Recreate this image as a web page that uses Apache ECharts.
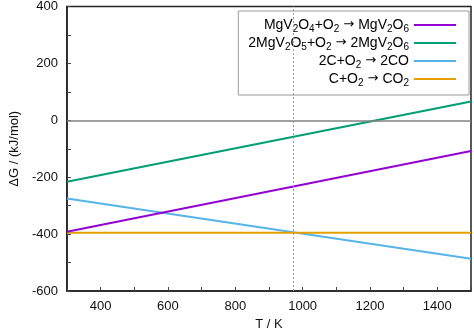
<!DOCTYPE html>
<html>
<head>
<meta charset="utf-8">
<script src="https://cdn.jsdelivr.net/npm/echarts@6/dist/echarts.min.js"></script>
<style>html,body{margin:0;padding:0;background:#fff}#c{width:474px;height:336px}</style>
</head>
<body>
<div id="c"></div>
<script>
// Data (T in K, ΔG in kJ/mol) — straight lines read at the plot ends
const seriesNames = ['MgV2O4+O2 → MgV2O6', '2MgV2O5+O2 → 2MgV2O6', '2C+O2 → 2CO', 'C+O2 → CO2'];
const seriesLabels = [
  'MgV{s|2}O{s|4}+O{s|2}{a|→}MgV{s|2}O{s|6}',
  '2MgV{s|2}O{s|5}+O{s|2}{a|→}2MgV{s|2}O{s|6}',
  '2C+O{s|2}{a|→}2CO',
  'C+O{s|2}{a|→}CO{s|2}'
];
const seriesColors = ['#9400D3', '#009E73', '#56B4E9', '#E69F00'];
const tValues = [300, 1500];
const mgv2o4 = [-392, -108];
const mgv2o5 = [-216, 66];
const co = [-275, -487];
const co2 = [-395, -395];
const zeroLine = 0;
const markerT = 971;
const xTickLabels = [400, 600, 800, 1000, 1200, 1400];
const yTickLabels = [-600, -400, -200, 0, 200, 400];

const allValues = [mgv2o4, mgv2o5, co, co2];
const font = 'Liberation Sans, Arial, Helvetica, sans-serif';

const series = allValues.map((vals, i) => ({
  name: seriesNames[i],
  type: 'line',
  data: tValues.map((t, j) => [t, vals[j]]),
  showSymbol: false,
  symbol: 'none',
  color: seriesColors[i],
  lineStyle: { width: 2, color: seriesColors[i] },
  z: 3,
  silent: true
}));
series[0].markLine = {
  silent: true,
  symbol: 'none',
  label: { show: false },
  animation: false,
  data: [
    { yAxis: zeroLine, lineStyle: { color: '#808080', width: 1.5, type: 'solid' } },
    { xAxis: markerT, lineStyle: { color: '#999', width: 1, type: [2, 2] } }
  ]
};
series[0].z = 4;

const chart = echarts.init(document.getElementById('c'), null, { renderer: 'canvas' });
chart.setOption({
  animation: false,
  backgroundColor: '#fff',
  textStyle: { fontFamily: font },
  grid: { left: 63, right: 2, top: 6, bottom: 41, show: true, borderColor: '#222', borderWidth: 1.5, backgroundColor: 'transparent' },
  legend: {
    orient: 'vertical',
    align: 'right',
    right: 5,
    top: 11,
    padding: [5, 13, 7, 10],
    itemGap: 0,
    itemWidth: 42,
    itemHeight: 2,
    icon: 'rect',
    backgroundColor: '#fff',
    borderColor: '#999',
    borderWidth: 1,
    borderRadius: 0,
    data: seriesNames,
    formatter: (name) => seriesLabels[seriesNames.indexOf(name)],
    textStyle: {
      fontFamily: font, fontSize: 14, color: '#000', lineHeight: 18,
      rich: {
        s: { fontFamily: font, fontSize: 10, lineHeight: 10, verticalAlign: 'bottom', color: '#000' },
        a: { fontFamily: 'DejaVu Sans', fontSize: 13, lineHeight: 18, color: '#000', padding: [0, 4, 0, 4] }
      }
    }
  },
  xAxis: {
    type: 'value', min: 300, max: 1500, interval: 100,
    name: 'T / K', nameLocation: 'middle', nameGap: 27,
    nameTextStyle: { fontFamily: font, fontSize: 13, color: '#111' },
    axisLine: { show: true, onZero: false, lineStyle: { color: '#222', width: 1.5 } },
    axisTick: { show: true, inside: true, length: 4, lineStyle: { color: '#444', width: 1 } },
    axisLabel: {
      fontFamily: font, fontSize: 13, color: '#111', margin: 9,
      formatter: (v) => xTickLabels.indexOf(v) >= 0 ? String(v) : ''
    },
    splitLine: { show: false }
  },
  yAxis: {
    type: 'value', min: -600, max: 400, interval: 100,
    name: 'ΔG / (kJ/mol)', nameLocation: 'middle', nameGap: 44,
    nameTextStyle: { fontFamily: font, fontSize: 13, color: '#111' },
    axisLine: { show: true, onZero: false, lineStyle: { color: '#222', width: 1.5 } },
    axisTick: { show: true, inside: true, length: 4, lineStyle: { color: '#444', width: 1 } },
    axisLabel: {
      fontFamily: font, fontSize: 13, color: '#111', margin: 9,
      formatter: (v) => yTickLabels.indexOf(v) >= 0 ? String(v) : ''
    },
    splitLine: { show: false }
  },
  series: series
});
</script>
</body>
</html>
